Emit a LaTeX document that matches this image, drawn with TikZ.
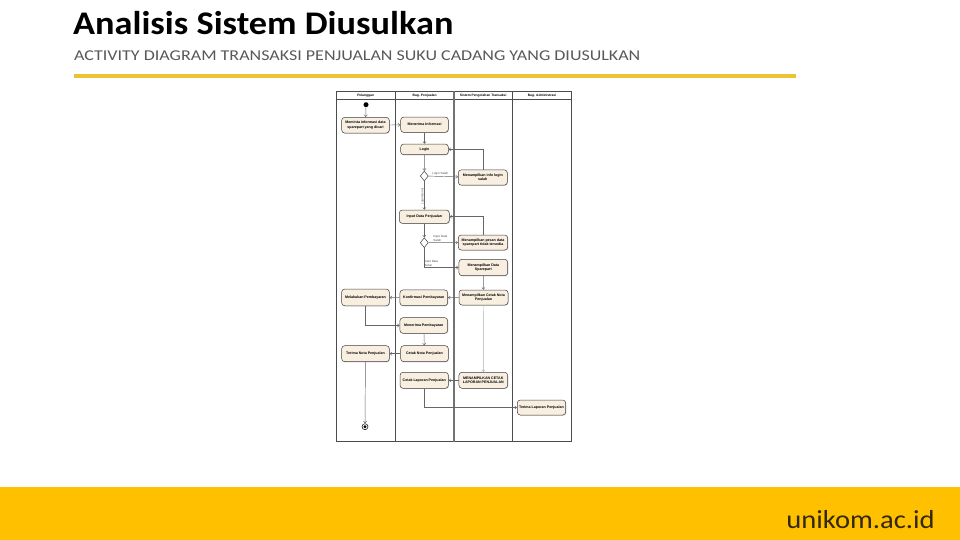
\documentclass[tikz,border=0pt]{standalone}
\usepackage{fontspec}
\setmainfont{Carlito}
\newfontfamily\diafont{Liberation Sans}
\usetikzlibrary{arrows.meta,shadows,shapes.geometric}
\definecolor{bandyellow}{RGB}{255,192,0}
\definecolor{ruleyellow}{RGB}{234,196,50}
\definecolor{cream}{RGB}{248,239,224}
\definecolor{subgrey}{RGB}{89,89,89}
\definecolor{urltext}{RGB}{50,40,10}
\tikzset{
  act/.style={draw=black!75, line width=0.5pt, fill=cream, rounded corners=3pt,
    font=\diafont\bfseries\fontsize{3.6}{4.3}\selectfont, align=center, inner sep=0pt,
    drop shadow={shadow xshift=0.6pt, shadow yshift=-0.6pt, opacity=0.35}},
  dec/.style={draw=black!75, line width=0.5pt, fill=white, shape=diamond, minimum width=8pt, minimum height=10pt, inner sep=0pt},
  flow/.style={draw=black!60, line width=0.45pt, -{Straight Barb[length=2pt,width=3.2pt]}},
  lightflow/.style={draw=black!30, line width=0.45pt, -{Straight Barb[length=2pt,width=3.2pt]}},
  lane/.style={draw=black!70, line width=0.6pt},
  guard/.style={font=\diafont\fontsize{3}{3.6}\selectfont, text=black!70, align=left, inner sep=0pt},
  hdr/.style={font=\diafont\bfseries\fontsize{3.3}{4}\selectfont, inner sep=0pt},
}
\begin{document}
\begin{tikzpicture}[x=1pt,y=-1pt]
\useasboundingbox (0,0) rectangle (960,540);
\fill[white] (0,0) rectangle (960,540);
% slide
\node[anchor=base west, inner sep=0, font=\bfseries\fontsize{33}{36}\selectfont] (title) at (73,35) {\scalebox{1.1}[1]{Analisis Sistem Diusulkan}};
\node[anchor=base west, inner sep=0, text=subgrey, font=\fontsize{15}{17}\selectfont] (subtitle) at (74,61) {\scalebox{1.2}[1]{ACTIVITY DIAGRAM TRANSAKSI PENJUALAN SUKU CADANG YANG DIUSULKAN}};
\fill[ruleyellow] (74,74.5) rectangle (796,78.5);
\fill[bandyellow] (0,487) rectangle (960,540);
\node[anchor=base east, inner sep=0, text=urltext, font=\fontsize{26}{30}\selectfont] (url) at (935,528) {\scalebox{1.1}[1]{unikom.ac.id}};

% swimlanes
\draw[lane] (336,91.3) rectangle (571.7,441.7);
\draw[lane] (336,99) -- (571.7,99);
\draw[lane] (395.3,91.3) -- (395.3,441.7);
\draw[draw=black!55, line width=1.3pt] (454,91.3) -- (454,441.7);
\draw[lane] (512.3,91.3) -- (512.3,441.7);
\node[hdr] (h1) at (365.6,95.2) {Pelanggan};
\node[hdr] (h2) at (424.6,95.2) {Bag. Penjualan};
\node[hdr] (h3) at (483.2,95.2) {Sistem Pengolahan Transaksi};
\node[hdr] (h4) at (542,95.2) {Bag. Administrasi};

% nodes
\node[fill=black, circle, inner sep=0pt, minimum size=5pt] (start) at (366,104.7) {};
\node[act, minimum width=47.6pt, minimum height=15.7pt] (meminta) at (365.5,125.2) {Meminta informasi data\\sparepart yang dicari};
\node[act, minimum width=47.6pt, minimum height=15.3pt] (menerima) at (424.5,124.7) {Menerima Informasi};
\node[act, minimum width=47.6pt, minimum height=10.7pt] (login) at (424.5,149.4) {Login};
\node[dec] (dec1) at (424.3,176) {};
\node[act, minimum width=49pt, minimum height=15.3pt] (infosalah) at (482.8,177.5) {Menampilkan info login\\salah};
\node[act, minimum width=50pt, minimum height=13.3pt] (input) at (424.3,216.7) {Input Data Penjualan};
\node[dec] (dec2) at (424.3,242.7) {};
\node[act, minimum width=49.4pt, minimum height=15pt] (pesan) at (483,242.5) {Menampilkan pesan data\\sparepart tidak tersedia};
\node[act, minimum width=48.7pt, minimum height=16.4pt] (dataspare) at (483.3,267.5) {Menampilkan Data\\Sparepart};
\node[act, minimum width=49pt, minimum height=15pt] (notasys) at (483.5,297.5) {Menampilkan Cetak Nota\\Penjualan};
\node[act, minimum width=47.7pt, minimum height=15.7pt] (konfirmasi) at (423.8,297.8) {Konfirmasi Pembayaran};
\node[act, minimum width=47.6pt, minimum height=16.7pt] (melakukan) at (365.5,297.4) {Melakukan Pembayaran};
\node[act, minimum width=47.7pt, minimum height=15.6pt] (terimabayar) at (423.8,325.5) {Menerima Pembayaran};
\node[act, minimum width=47.6pt, minimum height=16pt] (cetaknota) at (424.5,353.7) {Cetak Nota Penjualan};
\node[act, minimum width=47.6pt, minimum height=16pt] (terimanota) at (365.5,353.7) {Terima Nota Penjualan};
\node[act, minimum width=48.7pt, minimum height=16pt] (lapsys) at (483.3,380.3) {MENAMPILKAN CETAK\\LAPORAN PENJUALAN};
\node[act, minimum width=48.3pt, minimum height=16pt] (cetaklap) at (424.2,380.3) {Cetak Laporan Penjualan};
\node[act, minimum width=48.4pt, minimum height=15pt] (terimalap) at (541.5,407.5) {Terima Laporan Penjualan};
\node[circle, draw=black, line width=0.5pt, fill=white, inner sep=0pt, minimum size=6pt] (end) at (365,426.7) {};
\node[circle, fill=black, inner sep=0pt, minimum size=3.2pt] (endin) at (365,426.7) {};

% connectors
\draw[flow] (start) -- (meminta);
\draw[flow] (meminta) -- (menerima);
\draw[flow] (menerima) -- (login);
\draw[flow] (login) -- (dec1);
\draw[flow] (dec1) -- node[guard, above=0.8pt, pos=0.4] (lsalah) {Login Salah} (infosalah);
\draw[flow] (infosalah.north) |- (login.east);
\draw[flow] (dec1) -- node[guard, rotate=90, left=0.8pt, anchor=south] (lbenar) {Login Benar} (input);
\draw[flow] (input) -- (dec2);
\draw[flow] (dec2) -- node[guard, above=0.8pt, pos=0.4] (isalah) {Input Data\\Salah} (pesan);
\draw[flow] (pesan.north) |- (input.east);
\draw[flow] (dec2.south) |- node[guard, above=0.8pt, pos=0.6] (ibenar) {Input Data\\Benar} (dataspare.west);
\draw[flow] (dataspare) -- (notasys);
\draw[flow] (notasys) -- (konfirmasi);
\draw[flow] (konfirmasi) -- (melakukan);
\draw[flow] (melakukan.south) |- (terimabayar.west);
\draw[flow] (terimabayar) -- (cetaknota);
\draw[flow] (cetaknota) -- (terimanota);
\draw[flow] (terimanota) -- (end);
\draw[lightflow] (notasys) -- (lapsys);
\draw[flow] (lapsys) -- (cetaklap);
\draw[flow] (cetaklap.south) |- (terimalap.west);
\end{tikzpicture}
\end{document}
